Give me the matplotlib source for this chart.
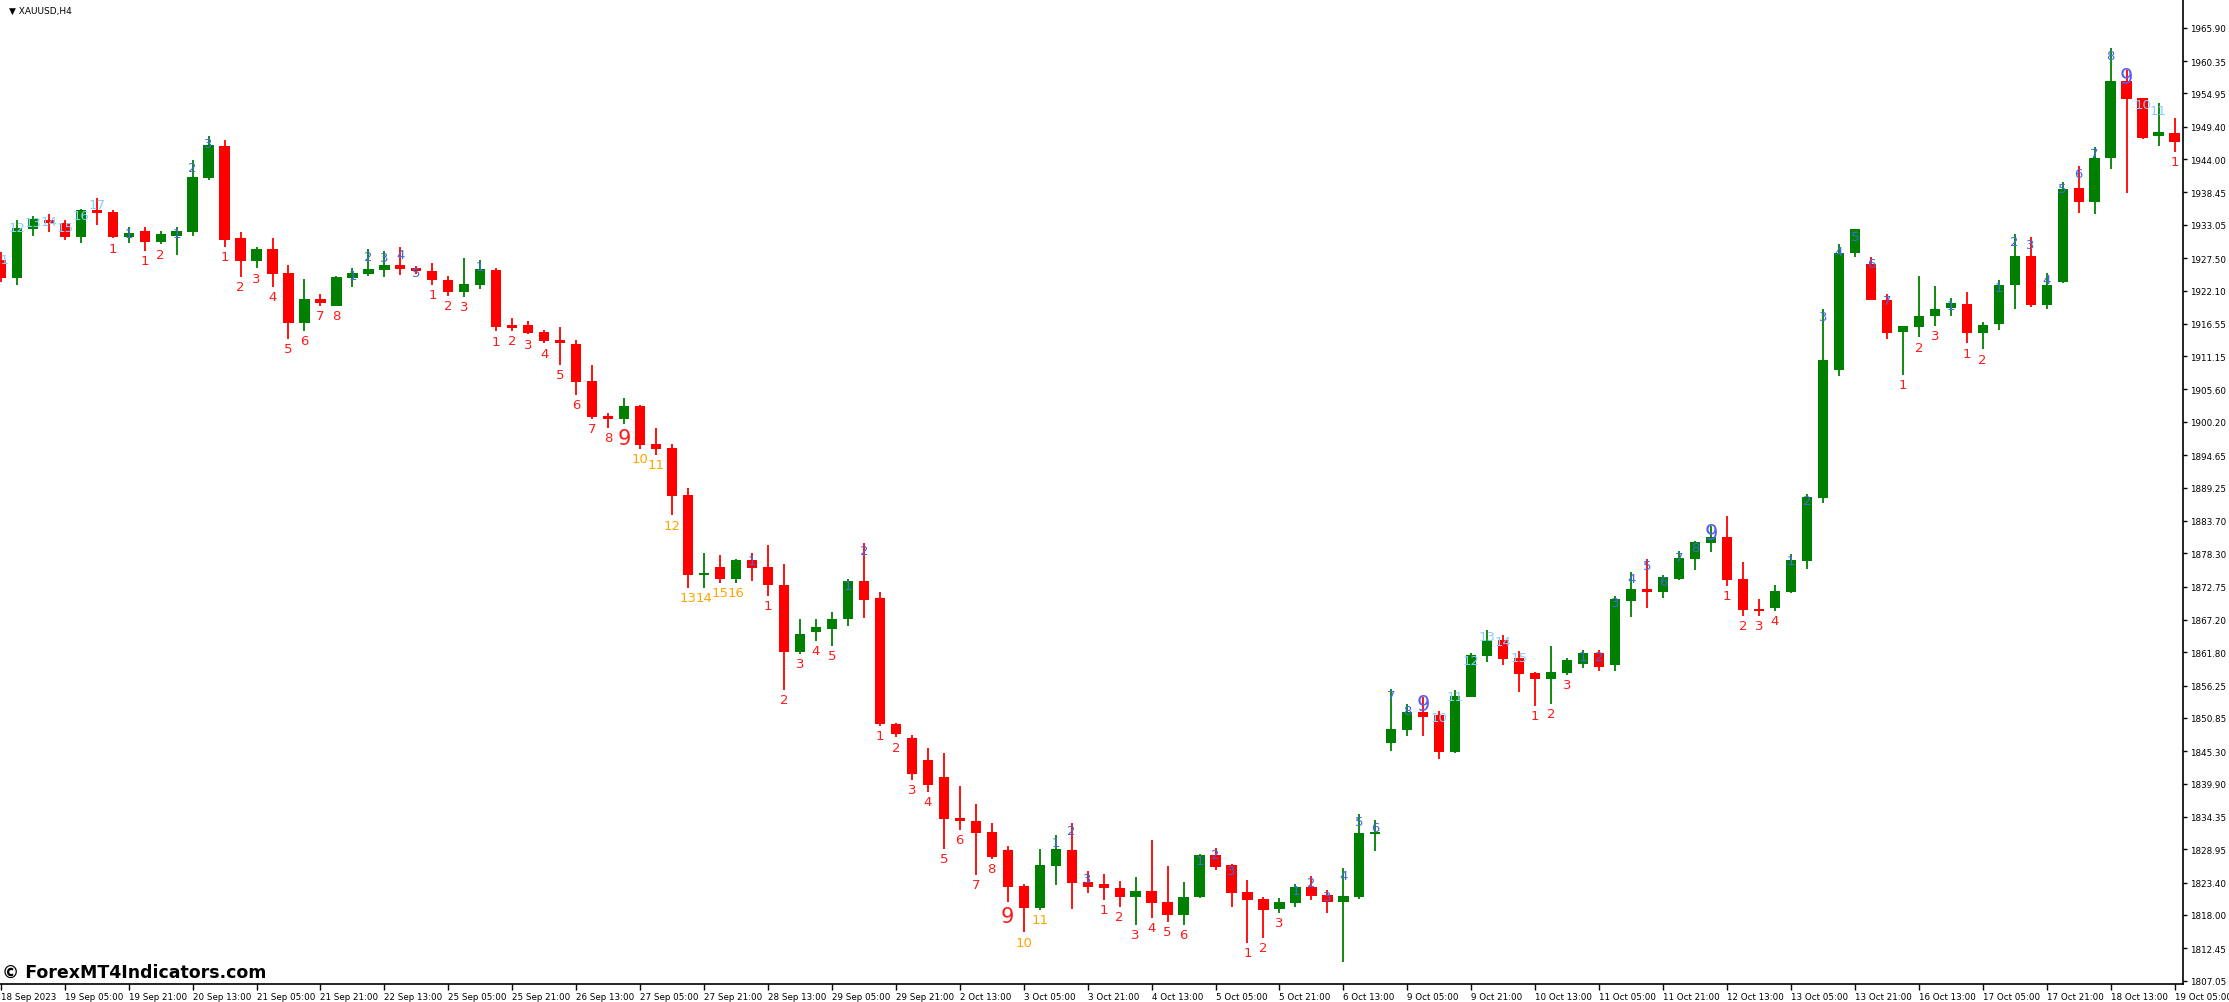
import matplotlib
matplotlib.use("Agg")
import matplotlib.pyplot as plt
import numpy as np

opens = [1927.2,1924.2,1932.4,1933.8,1933.3,1931.1,1935.5,1935.2,1931.1,1932.0,
         1930.2,1931.2,1931.9,1940.9,1946.2,1930.8,1927.1,1929.0,1925.0,1916.7,
         1920.7,1919.6,1924.2,1924.9,1925.6,1926.3,1925.8,1925.3,1923.8,1921.9,
         1923.1,1925.6,1916.4,1916.4,1915.2,1913.9,1913.2,1907.0,1901.2,1900.6,
         1902.9,1896.5,1895.9,1888.0,1874.7,1876.0,1874.0,1877.2,1876.0,1873.0,
         1861.8,1865.2,1865.7,1867.3,1873.7,1870.8,1849.8,1847.5,1843.9,1841.0,
         1834.2,1833.7,1831.8,1828.8,1822.8,1819.2,1826.2,1828.8,1823.5,1823.2,
         1822.5,1821.0,1822.0,1820.2,1818.0,1821.0,1828.0,1826.3,1821.8,1820.7,
         1819.0,1820.0,1822.7,1821.3,1820.2,1821.0,1831.5,1846.7,1848.9,1851.8,
         1851.3,1845.2,1854.3,1861.1,1863.8,1860.8,1858.3,1857.4,1858.4,1859.9,
         1861.7,1859.6,1870.4,1872.3,1871.9,1874.0,1877.3,1880.0,1881.0,1874.0,
         1869.0,1869.1,1871.9,1877.0,1887.5,1908.9,1928.3,1926.6,1920.5,1915.2,
         1916.0,1917.9,1919.2,1919.9,1915.0,1916.5,1923.0,1927.8,1919.7,1923.6,
         1939.2,1936.9,1944.2,1957.1,1954.2,1947.9,1948.3]
highs = [1928.5,1933.8,1934.6,1934.8,1933.8,1935.7,1937.6,1935.5,1932.7,1932.7,
         1932.0,1932.7,1943.8,1947.8,1947.2,1931.8,1929.3,1930.8,1926.3,1924.0,
         1921.5,1924.5,1925.8,1929.0,1928.7,1929.3,1926.2,1926.7,1924.5,1927.5,
         1927.2,1925.9,1917.5,1917.0,1915.5,1916.1,1913.9,1909.7,1901.7,1904.2,
         1903.0,1899.2,1896.5,1889.2,1878.3,1878.0,1877.3,1878.3,1879.7,1876.5,
         1867.3,1867.3,1868.5,1874.0,1880.0,1871.8,1850.0,1848.0,1845.8,1845.0,
         1839.5,1836.5,1833.3,1829.5,1823.2,1829.0,1831.3,1833.3,1825.3,1824.8,
         1823.7,1824.3,1830.5,1826.2,1823.5,1828.2,1829.2,1826.5,1823.8,1821.0,
         1820.8,1823.2,1824.5,1822.2,1825.8,1834.8,1833.8,1855.7,1853.2,1854.3,
         1852.0,1855.5,1861.6,1865.5,1864.7,1862.0,1858.5,1862.8,1860.8,1862.2,
         1862.2,1871.2,1875.2,1877.4,1874.7,1878.7,1880.4,1882.9,1884.5,1876.9,
         1870.7,1873.0,1878.2,1888.2,1919.0,1929.8,1932.3,1927.7,1921.6,1916.2,
         1924.5,1922.8,1920.8,1921.8,1916.9,1923.8,1931.5,1931.0,1925.1,1940.2,
         1942.8,1946.1,1962.5,1958.8,1954.2,1953.3,1950.8]
lows = [1923.5,1923.1,1931.2,1931.9,1930.6,1930.0,1933.0,1930.8,1930.0,1928.7,
        1929.8,1928.1,1931.2,1940.6,1929.4,1924.4,1925.8,1922.7,1914.0,1915.4,
        1919.6,1919.6,1922.7,1924.6,1924.4,1924.7,1924.8,1923.1,1921.2,1921.0,
        1922.3,1915.3,1915.4,1914.8,1913.3,1909.7,1904.7,1900.7,1899.2,1899.9,
        1895.7,1894.7,1884.6,1872.5,1872.5,1873.4,1873.4,1873.7,1871.2,1855.5,
        1861.5,1863.7,1862.9,1866.2,1867.5,1849.5,1847.6,1840.5,1838.5,1829.0,
        1832.2,1824.7,1827.3,1820.2,1815.1,1818.9,1823.0,1819.0,1821.7,1820.5,
        1819.3,1816.3,1817.5,1816.8,1816.3,1820.8,1825.5,1819.3,1813.3,1814.2,
        1818.3,1819.3,1820.5,1818.3,1810.2,1820.7,1828.7,1845.4,1847.9,1847.9,
        1844.0,1845.0,1854.3,1860.2,1859.7,1855.1,1852.9,1853.2,1858.0,1859.2,
        1858.6,1858.7,1867.6,1869.1,1870.9,1873.8,1875.5,1878.5,1872.8,1867.9,
        1867.9,1868.7,1871.6,1875.7,1886.6,1907.9,1927.7,1920.5,1914.1,1908.0,
        1914.3,1916.2,1917.9,1913.3,1912.3,1915.6,1919.0,1919.4,1919.0,1923.3,
        1935.0,1934.9,1942.4,1938.3,1947.3,1946.2,1945.2]
closes = [1924.2,1932.5,1934.0,1933.3,1931.1,1935.5,1935.1,1931.1,1931.7,1930.2,
          1931.5,1932.0,1941.0,1946.4,1930.6,1927.1,1929.0,1924.9,1916.7,1920.7,
          1920.1,1924.3,1925.0,1925.7,1926.3,1925.7,1925.4,1923.8,1921.9,1923.2,
          1925.7,1916.1,1915.9,1915.0,1913.7,1913.3,1906.9,1901.0,1900.7,1902.9,
          1896.4,1895.6,1887.9,1874.7,1875.0,1874.0,1877.2,1875.8,1873.0,1861.8,
          1864.8,1866.0,1867.3,1873.7,1870.5,1849.9,1848.2,1841.5,1839.6,1834.0,
          1833.6,1831.7,1827.6,1822.7,1819.2,1826.3,1829.0,1823.3,1822.7,1822.5,
          1821.0,1822.0,1820.0,1818.0,1821.0,1828.0,1826.0,1821.7,1820.5,1818.8,
          1820.2,1822.7,1821.2,1820.2,1821.2,1831.7,1831.8,1849.0,1851.8,1851.0,
          1845.2,1854.5,1861.3,1863.8,1860.7,1858.2,1857.4,1858.5,1860.5,1861.7,
          1859.4,1870.7,1872.3,1871.9,1874.4,1877.5,1880.2,1881.0,1873.8,1868.9,
          1868.7,1872.0,1877.2,1887.6,1910.5,1928.3,1932.3,1920.5,1915.0,1916.2,
          1917.9,1919.1,1920.1,1915.0,1916.4,1923.0,1927.8,1919.7,1923.0,1939.0,
          1936.9,1944.2,1957.1,1954.0,1947.5,1948.5,1946.9]

# TD counts: positive = buy-side count drawn in blue near high, negative = sell-side count drawn in red below low
td = [11,12,13,14,15,16,17,-1,1,-1,-2,1,2,3,-1,-2,-3,-4,-5,-6,
      -7,-8,1,2,3,4,5,-1,-2,-3,1,-1,-2,-3,-4,-5,-6,-7,-8,-9,
      -10,-11,-12,-13,-14,-15,-16,1,-1,-2,-3,-4,-5,1,2,-1,-2,-3,-4,-5,
      -6,-7,-8,-9,-10,-11,1,2,3,-1,-2,-3,-4,-5,-6,1,2,3,-1,-2,
      -3,1,2,3,4,5,6,7,8,9,10,11,12,13,14,15,-1,-2,-3,1,
      2,3,4,5,6,7,8,9,-1,-2,-3,-4,1,2,3,4,5,6,7,-1,
      -2,-3,1,-1,-2,1,2,3,4,5,6,7,8,9,10,11,-1]

date_labels = ["18 Sep 2023","19 Sep 05:00","19 Sep 21:00","20 Sep 13:00","21 Sep 05:00",
               "21 Sep 21:00","22 Sep 13:00","25 Sep 05:00","25 Sep 21:00","26 Sep 13:00",
               "27 Sep 05:00","27 Sep 21:00","28 Sep 13:00","29 Sep 05:00","29 Sep 21:00",
               "2 Oct 13:00","3 Oct 05:00","3 Oct 21:00","4 Oct 13:00","5 Oct 05:00",
               "5 Oct 21:00","6 Oct 13:00","9 Oct 05:00","9 Oct 21:00","10 Oct 13:00",
               "11 Oct 05:00","11 Oct 21:00","12 Oct 13:00","13 Oct 05:00","13 Oct 21:00",
               "16 Oct 13:00","17 Oct 05:00","17 Oct 21:00","18 Oct 13:00","19 Oct 05:00"]
price_ticks = [1965.90,1960.35,1954.95,1949.40,1944.00,1938.45,1933.05,1927.50,1922.10,
               1916.55,1911.15,1905.60,1900.20,1894.65,1889.25,1883.70,1878.30,1872.75,
               1867.20,1861.80,1856.25,1850.85,1845.30,1839.90,1834.35,1828.95,1823.40,
               1818.00,1812.45,1807.05]

o = np.array(opens); h = np.array(highs); l = np.array(lows); c = np.array(closes)
x = np.arange(len(o))
up = c >= o
cols = np.where(up, "#008000", "#ff0000")

fig = plt.figure(figsize=(22.29, 10.03), dpi=100)
ax = fig.add_axes([0.0, 0.018, 0.9795, 0.982])
ax.vlines(x, l, h, colors=cols, linewidth=1.3, zorder=2)
bottoms = np.minimum(o, c)
heights = np.maximum(np.abs(c - o), 0.35)
ax.bar(x, heights, bottom=bottoms, width=0.64, color=cols, linewidth=0, zorder=3)

for i, n in enumerate(td):
    big = abs(n) == 9
    fs = 15 if big else 9.5
    if n > 0:
        col = "#4169e1" if n < 10 else "#87cefa"
        if big:
            col = "#5b5bf0"
        ax.annotate(str(n), (x[i], h[i]), xytext=(0, -5), textcoords="offset points",
                    ha="center", va="center", fontsize=fs, color=col, zorder=4)
    elif n < 0:
        col = "#ff1a1a" if -n < 10 else "#ffa500"
        ax.annotate(str(-n), (x[i], l[i]), xytext=(0, -7 if not big else -10),
                    textcoords="offset points", ha="center", va="center",
                    fontsize=fs, color=col, zorder=4)

ax.set_xlim(-0.05, 136.55)
ax.set_ylim(1806.5, 1970.7)
ax.yaxis.tick_right()
ax.set_yticks(price_ticks)
ax.set_yticklabels([f"{p:.2f}" for p in price_ticks], fontsize=6.3)
ax.set_xticks(np.arange(0, 4 * len(date_labels), 4))
ax.set_xticklabels(date_labels, fontsize=6.3, ha="left")
ax.tick_params(axis="x", length=4, pad=2, width=1)
ax.tick_params(axis="y", length=3, pad=1.5, width=1)
for s in ["top", "left"]:
    ax.spines[s].set_visible(False)
ax.spines["right"].set_linewidth(1.2)
ax.spines["bottom"].set_linewidth(1.2)

fig.text(0.004, 0.993, "\u25BC XAUUSD,H4", fontsize=6.5, va="top", ha="left")
fig.text(0.001, 0.030, "\u00A9 ForexMT4Indicators.com", fontsize=12.5, fontweight="bold",
         va="center", ha="left")

fig.savefig("out.png", dpi=100)
